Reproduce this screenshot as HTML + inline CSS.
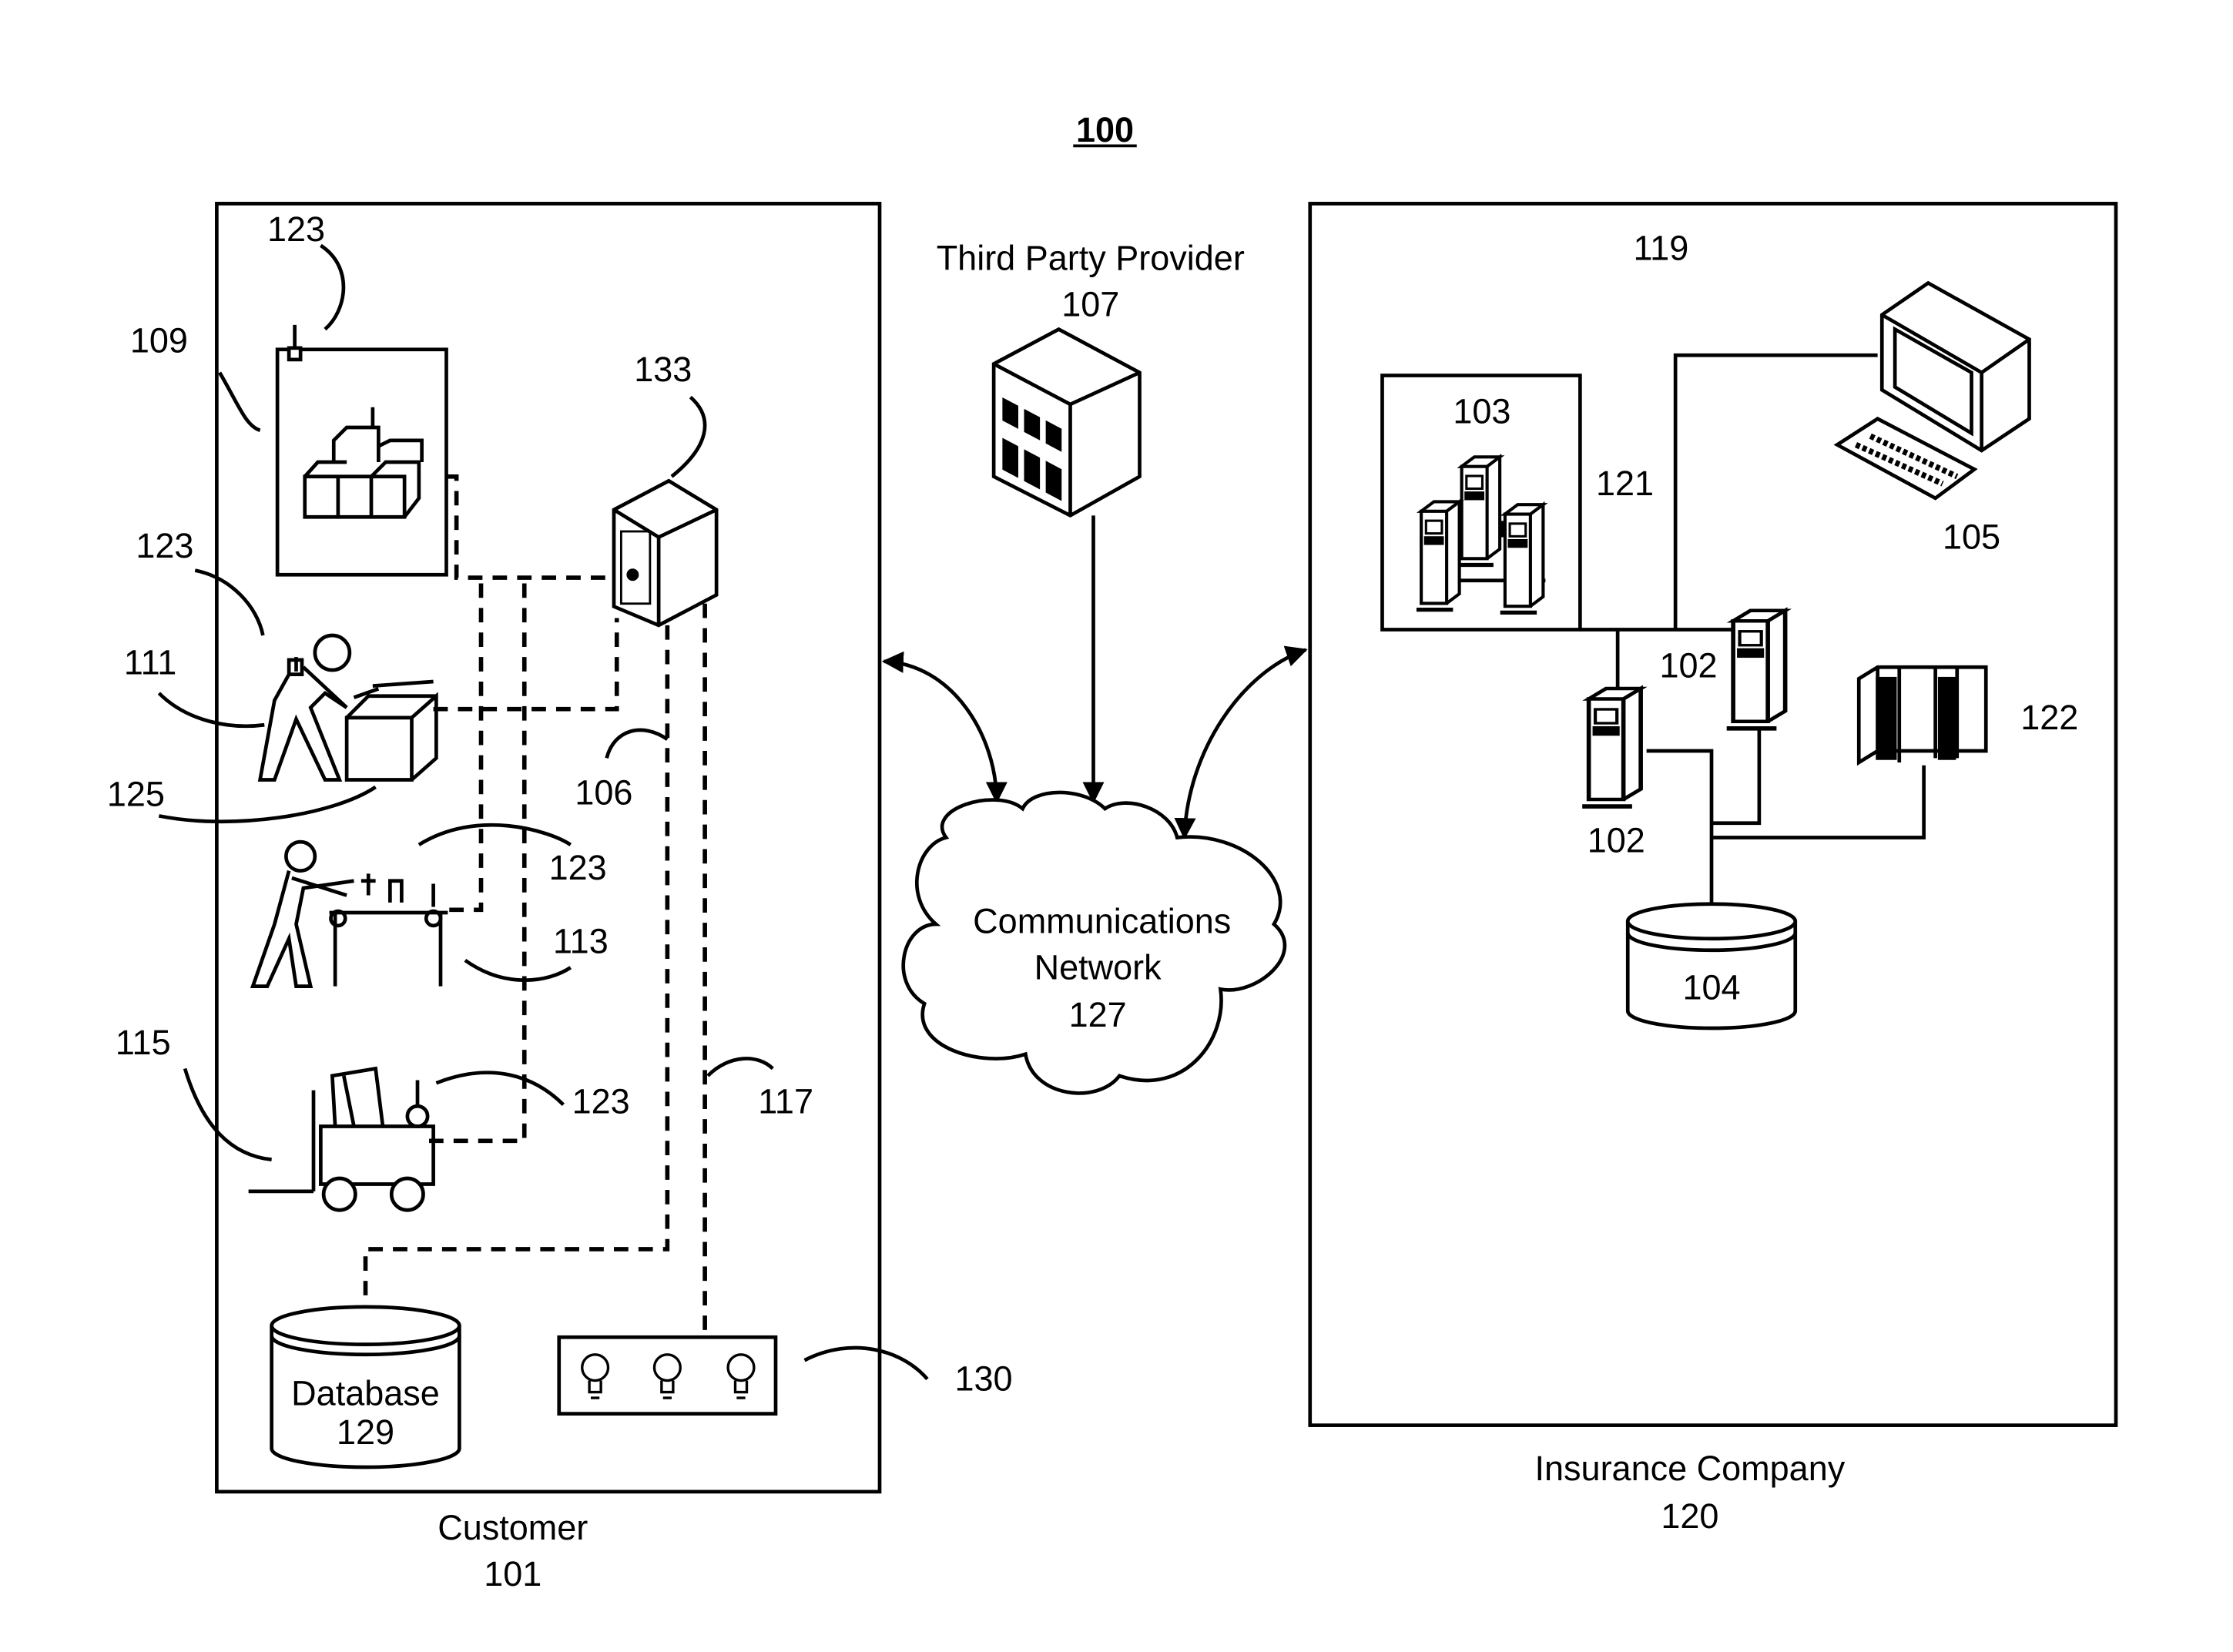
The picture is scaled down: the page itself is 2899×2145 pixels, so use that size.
<!DOCTYPE html>
<html><head><meta charset="utf-8"><style>
html,body{margin:0;padding:0;background:#fff}
svg{display:block}
text{font-family:"Liberation Sans",sans-serif;font-size:24px;fill:#000}
</style></head><body>
<svg width="2899" height="2145" viewBox="0 0 1546 1144" xmlns="http://www.w3.org/2000/svg">
<defs>
<marker id="ah" viewBox="0 0 10 10" refX="9" refY="5" markerWidth="6" markerHeight="6" orient="auto-start-reverse"><path d="M0,0 L10,5 L0,10 z" fill="#000"/></marker>
<g id="srv"><path d="M0,10 L8,4 L24,4 L16,10 z M0,10 L16,10 L16,68 L0,68 z M16,10 L24,4 L24,62 L16,68" fill="#fff" stroke="#000" stroke-width="2"/><rect x="3" y="16" width="10" height="8" fill="none" stroke="#000" stroke-width="1.5"/><rect x="3" y="27" width="10" height="3" fill="#000"/><path d="M-3,72 L20,72" stroke="#000" stroke-width="2.5"/></g>
</defs>
<g fill="none" stroke="#000" stroke-width="2.5">
<rect x="150" y="141" width="459" height="892"/>
<rect x="907" y="141" width="558" height="846"/>
<!-- 109 panel -->
<rect x="192" y="242" width="117" height="156"/>
<rect x="200" y="241" width="8" height="8" fill="#fff"/>
<path d="M204,241 V225"/>
<path d="M211,330 H280 V358 H211 z M234,330 V358 M257,330 V358 M211,330 L220,320 H240 M257,330 L267,320 H290 V345 L280,358 M231,320 V305 L240,296 H262 V320 M262,309 L270,305 H292 V320 M258,296 V282" />
<g stroke-dasharray="10,7" stroke-width="3">
<path d="M309,330 H316 V400 H425"/>
<path d="M333,404 V630 H309"/>
<path d="M363,404 V790 H296"/>
<path d="M300,491 H427 V428"/>
<path d="M462,433 V865 H253 V905"/>
<path d="M488,418 V922"/>
</g>
<path d="M222,170 C245,185 240,215 225,228"/>
<path d="M152,258 C165,280 170,295 180,298"/>
<path d="M465,330 C490,310 495,290 478,275"/>
<!-- server 133 -->
<path d="M425,353 L463,333 L496,353 L496,412 L456,433 L425,420 z M425,353 L456,372 L496,353 M456,372 V433" fill="#fff"/>
<rect x="430" y="368" width="20" height="50" fill="none" stroke-width="1.5"/>
<circle cx="438" cy="398" r="3" fill="#000"/>
<!-- worker 111 -->
<circle cx="230" cy="452" r="12"/>
<path d="M205,465 V455 M200,457 h9 v10 h-9 z M200,467 L190,485 L180,540 H190 L205,498 L225,540 H235 L215,490 L225,480 L240,490 M210,462 L240,490"/>
<path d="M240,497 H285 V540 H240 z M285,497 L302,482 V525 L285,540 M240,497 L255,482 H302 M258,475 L300,472 M245,483 L262,477"/>
<path d="M110,480 C130,500 160,505 183,502"/>
<path d="M135,395 C160,400 178,420 182,440"/>
<path d="M110,565 C160,575 230,565 260,545"/>
<!-- worker 113 -->
<circle cx="208" cy="593" r="10"/>
<path d="M200,603 L190,640 L175,683 H185 L200,650 L205,683 H215 L205,640 L210,615 L245,610 M202,608 L240,620"/>
<path d="M228,632 H310 M232,632 V683 M305,632 V683"/>
<circle cx="234" cy="636" r="5"/><circle cx="300" cy="636" r="5"/>
<path d="M255,620 V605 M250,610 h10 M270,625 v-15 h8 v15 M300,628 V612"/>
<path d="M290,585 C330,560 380,575 395,585"/>
<path d="M322,665 C350,685 380,680 395,670"/>
<!-- forklift 115 -->
<path d="M217,755 V825 M172,825 H217 M222,780 H300 V820 H222 z M232,780 L230,745 L260,740 L265,780 M238,745 L245,780"/>
<circle cx="235" cy="827" r="11" fill="#fff"/><circle cx="282" cy="827" r="11" fill="#fff"/>
<circle cx="289" cy="773" r="7"/><path d="M289,766 V748"/>
<path d="M128,740 C140,780 160,800 188,803"/>
<path d="M302,750 C340,735 370,745 390,765"/>
<path d="M420,525 C425,505 445,500 462,512"/>
<path d="M490,745 C505,730 525,730 535,740"/>
<!-- database 129 -->
<path d="M188,918 V1003 A65,13 0 0 0 318,1003 V918"/>
<ellipse cx="253" cy="918" rx="65" ry="13"/>
<path d="M188,925 A65,13 0 0 0 318,925"/>
<rect x="387" y="926" width="150" height="53"/>
<g stroke-width="1.8"><circle cx="412" cy="947" r="9"/><path d="M408,956 v8 h8 v-8 M409,968 h6"/><circle cx="462" cy="947" r="9"/><path d="M458,956 v8 h8 v-8 M459,968 h6"/><circle cx="513" cy="947" r="9"/><path d="M509,956 v8 h8 v-8 M510,968 h6"/></g>
<path d="M557,942 C590,925 625,935 642,955"/>
<!-- building 107 -->
<path d="M688,252 L733,228 L789,258 L789,330 L741,357 L688,330 z M688,252 L741,280 L789,258 M741,280 V357" fill="#fff"/>
<g transform="translate(688,252) matrix(1,0.53,0,1,0,0)" fill="#000" stroke="none">
<rect x="6" y="20" width="11" height="16"/><rect x="21" y="20" width="11" height="16"/><rect x="36" y="20" width="11" height="16"/>
<rect x="6" y="48" width="11" height="22"/><rect x="21" y="48" width="11" height="22"/><rect x="36" y="48" width="11" height="22"/>
</g>
<path d="M757,357 V555" marker-end="url(#ah)"/>
<path d="M612,458 C660,460 690,510 690,555" marker-start="url(#ah)" marker-end="url(#ah)"/>
<path d="M904,450 C860,465 822,520 820,580" marker-start="url(#ah)" marker-end="url(#ah)"/>
<!-- cloud -->
<path d="M655,580 C640,560 690,545 708,560 C715,545 750,545 765,560 C780,550 810,560 815,580 C860,575 900,610 882,640 C905,660 870,690 845,685 C850,720 820,760 775,745 C760,765 715,760 710,730 C680,740 630,725 640,695 C615,680 625,640 648,640 C625,620 635,585 655,580 z" fill="#fff"/>
<!-- right side -->
<rect x="957" y="260" width="137" height="176"/>
<path d="M985,402 H1070 M1022,372 V362 H1040 V372"/>
<use href="#srv" transform="translate(1012,312) scale(1.1)"/>
<use href="#srv" transform="translate(984,343) scale(1.1)"/>
<use href="#srv" transform="translate(1042,345) scale(1.1)"/>
<path d="M1094,436 H1200 M1160,436 V246 H1300 M1120,436 V478"/>
<path d="M1140,520 H1185 V567 M1218,505 V570 H1185 M1185,580 H1332 V530 M1185,567 V625"/>
<use href="#srv" transform="translate(1100,472) scale(1.5,1.2)"/>
<use href="#srv" transform="translate(1200,418) scale(1.5,1.2)"/>
<!-- monitor 105 -->
<path d="M1303,218 L1335,196 L1405,235 L1405,290 L1372,312 L1303,270 z M1303,218 L1372,258 L1405,235 M1372,258 V312" fill="#fff"/>
<path d="M1312,228 L1365,258 V300 L1312,268 z"/>
<path d="M1272,308 L1300,290 L1367,325 L1340,345 z" fill="#fff"/>
<path d="M1285,308 L1345,335 M1295,302 L1355,330" stroke-width="4" stroke-dasharray="3,2"/>
<!-- 122 -->
<path d="M1287,470 L1300,462 H1375 V520 H1300 L1287,528 z M1300,462 V520 M1315,462 V528 M1340,462 V525 M1355,462 V525" fill="#fff"/>
<rect x="1300" y="470" width="12" height="55" fill="#000"/><rect x="1343" y="470" width="10" height="55" fill="#000"/>
<!-- 104 -->
<path d="M1127,638 V700 A58,12 0 0 0 1243,700 V638"/>
<ellipse cx="1185" cy="638" rx="58" ry="12" fill="#fff"/>
<path d="M1127,646 A58,12 0 0 0 1243,646"/>
</g>
<text x="765" y="98" text-anchor="middle" font-weight="bold">100</text>
<path d="M743,101 H787" stroke="#000" stroke-width="2"/>
<text x="205" y="167" text-anchor="middle">123</text>
<text x="110" y="244" text-anchor="middle">109</text>
<text x="459" y="264" text-anchor="middle">133</text>
<text x="114" y="386" text-anchor="middle">123</text>
<text x="104" y="467" text-anchor="middle">111</text>
<text x="94" y="558" text-anchor="middle">125</text>
<text x="418" y="557" text-anchor="middle">106</text>
<text x="400" y="609" text-anchor="middle">123</text>
<text x="402" y="660" text-anchor="middle">113</text>
<text x="99" y="730" text-anchor="middle">115</text>
<text x="416" y="771" text-anchor="middle">123</text>
<text x="544" y="771" text-anchor="middle">117</text>
<text x="253" y="973" text-anchor="middle">Database</text>
<text x="253" y="1000" text-anchor="middle">129</text>
<text x="681" y="963" text-anchor="middle">130</text>
<text x="355" y="1066" text-anchor="middle">Customer</text>
<text x="355" y="1098" text-anchor="middle">101</text>
<text x="755" y="187" text-anchor="middle">Third Party Provider</text>
<text x="755" y="219" text-anchor="middle">107</text>
<text x="763" y="646" text-anchor="middle">Communications</text>
<text x="760" y="678" text-anchor="middle">Network</text>
<text x="760" y="711" text-anchor="middle">127</text>
<text x="1150" y="180" text-anchor="middle">119</text>
<text x="1026" y="293" text-anchor="middle">103</text>
<text x="1125" y="343" text-anchor="middle">121</text>
<text x="1365" y="380" text-anchor="middle">105</text>
<text x="1169" y="469" text-anchor="middle">102</text>
<text x="1419" y="505" text-anchor="middle">122</text>
<text x="1119" y="590" text-anchor="middle">102</text>
<text x="1185" y="692" text-anchor="middle">104</text>
<text x="1170" y="1025" text-anchor="middle">Insurance Company</text>
<text x="1170" y="1058" text-anchor="middle">120</text>
</svg>
</body></html>
